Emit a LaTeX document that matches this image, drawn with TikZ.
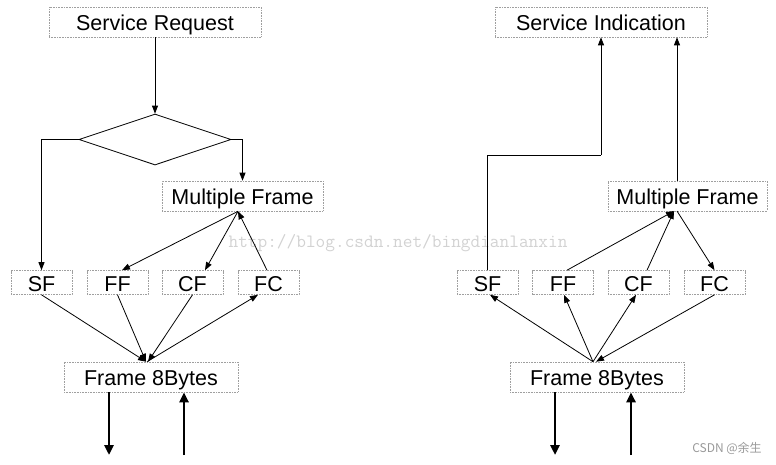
\documentclass[tikz,border=0pt]{standalone}
\usepackage{fontspec}
\setmainfont{Liberation Sans}
\newfontfamily\cjkfont{Noto Sans CJK SC}
\usetikzlibrary{shapes.geometric,arrows.meta,calc}
\tikzset{
  box/.style={draw=gray!75, densely dotted, line width=0.6pt, inner sep=0pt, minimum height=30pt, text height=17pt, text depth=0pt, font=\fontsize{21.5}{24}\selectfont, text=black},
  sbox/.style={box, minimum width=61pt, minimum height=24pt},
  arr/.style={draw=black, line width=0.8pt, -{Triangle[length=8pt,width=6pt]}},
  thk/.style={draw=black, line width=2.8pt, -{Triangle[length=10pt,width=9pt]}},
  ln/.style={draw=black, line width=0.8pt}
}
\begin{document}
\begin{tikzpicture}[x=1pt,y=-1pt]
\useasboundingbox (0,0) rectangle (776,464);
% watermark
\node[text=gray!35, font=\ttfamily\fontsize{18.8}{20}\selectfont] (wm) at (398,243) {http://blog.csdn.net/bingdianlanxin};
\node[text=gray!80, font=\cjkfont\fontsize{12}{14}\selectfont] (csdn) at (727,448) {CSDN @余生};

% ---------- left ----------
\node[box, minimum width=212pt] (sreq) at (155,22) {Service Request};
\node[draw=black, line width=0.8pt, diamond, minimum width=152pt, minimum height=51pt, inner sep=0pt] (dia) at (155,139.5) {};
\node[box, minimum width=161pt] (lmf) at (242.5,196) {Multiple Frame};
\node[sbox] (lsf) at (41.5,282.5) {SF};
\node[sbox] (lff) at (117.5,282.5) {FF};
\node[sbox] (lcf) at (192.5,282.5) {CF};
\node[sbox] (lfc) at (268.5,282.5) {FC};
\node[box, minimum width=174pt] (lfr) at (151,377) {Frame 8Bytes};

\coordinate (lmfb) at ([xshift=-4.5pt]lmf.south);
\coordinate (lcv) at ([xshift=-5pt]lfr.north);
\coordinate (ldn) at (109,455);
\coordinate (lup) at (184,455);

\draw[arr] (sreq.south) -- (dia.north);
\draw[arr] (dia.west) -| (lsf.north);
\draw[arr] (dia.east) -| (lmf.north);
\draw[arr] (lmfb) -- ([xshift=4.5pt]lff.north);
\draw[arr] (lmfb) -- ([xshift=12.5pt]lcf.north);
\draw[arr] ([xshift=-1.5pt]lfc.north) -- (lmfb);
\draw[arr] (lsf.south) -- (lcv);
\draw[arr] (lff.south) -- (lcv);
\draw[arr] (lcf.south) -- ([xshift=2pt]lcv);
\draw[arr] ([xshift=1pt]lcv) -- ([xshift=-10.5pt]lfc.south);
\draw[thk] (lfr.south -| ldn) -- (ldn);
\draw[thk] (lup) -- (lfr.south -| lup);

% ---------- right ----------
\node[box, minimum width=212pt] (sind) at (601,22) {Service Indication};
\node[box, minimum width=159pt] (rmf) at (687.5,196) {Multiple Frame};
\node[sbox] (rsf) at (487.5,282.5) {SF};
\node[sbox] (rff) at (563,282.5) {FF};
\node[sbox] (rcf) at (638.5,282.5) {CF};
\node[sbox] (rfc) at (714.5,282.5) {FC};
\node[box, minimum width=174pt] (rfr) at (597,377) {Frame 8Bytes};

\coordinate (rbend) at (601,155);
\coordinate (rmft) at (677,181);
\coordinate (rmfb) at (674,211);
\coordinate (rcv) at ([xshift=-4pt]rfr.north);
\coordinate (rdn) at (555,455);
\coordinate (rup) at (631,455);

\draw[ln] (rsf.north) |- (rbend);
\draw[arr] (rbend) -- (sind.south -| rbend);
\draw[arr] (rmft) -- (sind.south -| rmft);
\draw[arr] ([xshift=4pt]rff.north) -- (rmfb);
\draw[arr] ([xshift=8.5pt]rcf.north) -- (rmfb);
\draw[arr] ([xshift=3pt]rmfb) -- (rfc.north);
\draw[arr] (rcv) -- ([xshift=2.5pt]rsf.south);
\draw[arr] (rcv) -- ([xshift=1pt]rff.south);
\draw[arr] (rcv) -- ([xshift=-2.5pt]rcf.south);
\draw[arr] (rfc.south) -- ([xshift=3pt]rcv);
\draw[thk] (rfr.south -| rdn) -- (rdn);
\draw[thk] (rup) -- (rfr.south -| rup);
\end{tikzpicture}
\end{document}
